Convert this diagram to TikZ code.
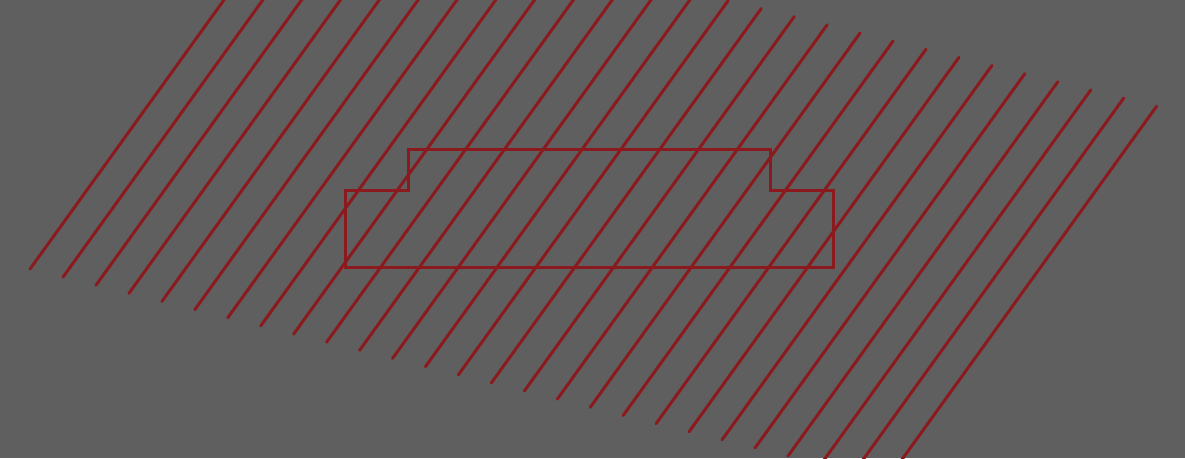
\documentclass[tikz,border=0pt]{standalone}
\definecolor{bg}{RGB}{95,95,95}
\definecolor{hatch}{RGB}{139,26,30}
\begin{document}
\begin{tikzpicture}[x=1pt,y=-1pt,
  hatchline/.style={draw=hatch,line width=3pt,line cap=round},
  outline/.style={draw=hatch,line width=3pt,line join=miter}]
\fill[bg] (0,0) rectangle (1185,458);
\useasboundingbox (0,0) rectangle (1185,458);
\clip (0,0) rectangle (1185,458);
\foreach \i in {0,...,26}{
  \draw[hatchline] ({30+32.95*\i},{269+8.14*\i}) -- ++(270,-374.5);
}
\draw[outline] (345,190) -- (408,190) -- (408,149) -- (770,149) -- (770,190)
  -- (833,190) -- (833,267) -- (345,267) -- cycle;
\end{tikzpicture}
\end{document}
